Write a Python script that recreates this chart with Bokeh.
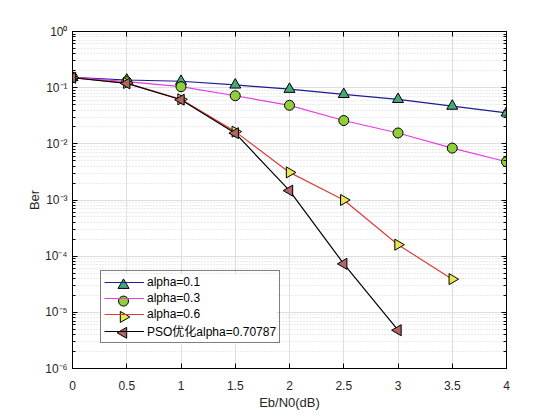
import math
from bokeh.plotting import figure
from bokeh.models import (FixedTicker, LinearAxis, LogAxis, Legend, Range1d)
from bokeh.embed import file_html
from bokeh.resources import INLINE

# ---- data ----
ebn0_full = [0, 0.5, 1, 1.5, 2, 2.5, 3, 3.5, 4]
ber_a01 = [0.152, 0.137, 0.130, 0.112, 0.094, 0.076, 0.062, 0.047, 0.0355]
ber_a03 = [0.152, 0.128, 0.104, 0.0718, 0.0485, 0.026, 0.0156, 0.0084, 0.0048]
ebn0_a06 = [0, 0.5, 1, 1.5, 2, 2.5, 3, 3.5]
ber_a06 = [0.150, 0.121, 0.062, 0.0165, 0.0031, 0.001, 1.6e-4, 3.9e-5]
ebn0_pso = [0, 0.5, 1, 1.5, 2, 2.5, 3]
ber_pso = [0.150, 0.119, 0.061, 0.0155, 0.00147, 7.3e-5, 4.8e-6]

x_ticks = [0, 0.5, 1, 1.5, 2, 2.5, 3, 3.5, 4]
x_tick_labels = ["0", "0.5", "1", "1.5", "2", "2.5", "3", "3.5", "4"]
y_exponents = [-6, -5, -4, -3, -2, -1, 0]
y_tick_labels = ["10\u207b\u2076", "10\u207b\u2075", "10\u207b\u2074", "10\u207b\u00b3",
                 "10\u207b\u00b2", "10\u207b\u00b9", "10\u2070"]

series_labels = ["alpha=0.1", "alpha=0.3", "alpha=0.6", "PSO优化alpha=0.70787"]

FONT = "Liberation Sans, 'Noto Sans CJK SC'"
TXT = "#262626"

X0, X1, YLOG0, YLOG1 = 0.0, 4.0, -6, 0
W, H, BL, BR, BT, BB = 552, 412, 72, 46, 31, 41
FW, FH = W - BL - BR, H - BT - BB

p = figure(width=W, height=H, output_backend="svg", toolbar_location=None,
           y_axis_type="log", x_range=Range1d(X0, X1),
           y_range=Range1d(10.0 ** YLOG0, 10.0 ** YLOG1),
           min_border_left=BL, min_border_right=BR, min_border_top=BT,
           min_border_bottom=BB)
p.outline_line_color = "black"
p.outline_line_width = 1

y_major = [10.0 ** e for e in y_exponents]
y_minor = [k * 10.0 ** e for e in y_exponents[:-1] for k in range(2, 10)]

# grids
p.xgrid.ticker = FixedTicker(ticks=x_ticks)
p.ygrid.ticker = FixedTicker(ticks=y_major, minor_ticks=y_minor)
p.xgrid.grid_line_color = "#dedede"
p.ygrid.grid_line_color = "#dedede"
p.ygrid.minor_grid_line_color = "#d8d8d8"
p.ygrid.minor_grid_line_dash = "1 2"

def style_axis(ax):
    ax.axis_line_color = "black"
    ax.major_tick_in = 5
    ax.major_tick_out = 0
    ax.minor_tick_in = 3
    ax.minor_tick_out = 0
    ax.major_tick_line_color = "black"
    ax.minor_tick_line_color = "black"
    ax.major_label_text_font = FONT
    ax.major_label_text_font_size = "12px"
    ax.major_label_text_color = TXT
    ax.axis_label_text_font = FONT
    ax.axis_label_text_font_size = "13px"
    ax.axis_label_text_font_style = "normal"
    ax.axis_label_text_color = TXT

xa = p.xaxis[0]
xa.ticker = FixedTicker(ticks=x_ticks)
xa.major_label_overrides = {t: l for t, l in zip(x_ticks, x_tick_labels)}
xa.axis_label = "Eb/N0(dB)"
style_axis(xa)
xa.major_label_standoff = 12
xa.axis_label_standoff = 2

ya = p.yaxis[0]
ya.ticker = FixedTicker(ticks=y_major, minor_ticks=y_minor)
ya.major_label_overrides = {t: l for t, l in zip(y_major, y_tick_labels)}
ya.axis_label = "Ber"
style_axis(ya)
ya.major_label_standoff = 5
ya.axis_label_standoff = 0

top = LinearAxis(ticker=FixedTicker(ticks=x_ticks))
style_axis(top)
top.major_label_text_color = None
top.major_label_standoff = 0
p.add_layout(top, "above")
right = LogAxis(ticker=FixedTicker(ticks=y_major, minor_ticks=y_minor))
style_axis(right)
right.major_label_text_color = None
right.major_label_standoff = 0
p.add_layout(right, "right")

# legend geometry (frame pixels from bottom-left)
LEG_X, LEG_Y, PAD, ROW, GW, LEG_W = 28, 25, 3, 16, 40, 176
box_h = 2 * PAD + len(series_labels) * ROW

def px_to_x(px):
    return X0 + (X1 - X0) * px / FW

def px_to_y(py):
    return 10.0 ** (YLOG0 + (YLOG1 - YLOG0) * py / FH)

# white legend background drawn first (glyph level, above the grid)
p.quad(left=[px_to_x(LEG_X)], right=[px_to_x(LEG_X + LEG_W)],
       bottom=[px_to_y(LEG_Y)], top=[px_to_y(LEG_Y + box_h)],
       fill_color="white", line_color=None)

# series
specs = [
    (ebn0_full, ber_a01, "#1c1c96", "#46a878", "triangle", 0.0, 11),
    (ebn0_full, ber_a03, "#e63ce6", "#8fd03a", "circle", 0.0, 10),
    (ebn0_a06, ber_a06, "#dc3c3c", "#e8e84c", "triangle", -math.pi / 2, 11),
    (ebn0_pso, ber_pso, "#000000", "#b06464", "triangle", math.pi / 2, 11),
]
items = []
for (xs, ys, lc, fc, mk, ang, sz), lab in zip(specs, series_labels):
    r1 = p.line(xs, ys, line_color=lc, line_width=1.2)
    p.scatter(xs, ys, marker=mk, angle=ang, size=sz, fill_color=fc,
              line_color="black", line_width=1)
    items.append((lab, [r1]))

# legend markers at the legend rows
cx_px = LEG_X + PAD + GW / 2.0
for i, (xs, ys, lc, fc, mk, ang, sz) in enumerate(specs):
    cy_px = LEG_Y + box_h - PAD - ROW * (i + 0.5)
    p.scatter([px_to_x(cx_px)], [px_to_y(cy_px)], marker=mk, angle=ang, size=sz,
              fill_color=fc, line_color="black", line_width=1)

legend = Legend(items=items, location=(LEG_X, LEG_Y))
legend.label_text_font = FONT
legend.label_text_font_size = "12px"
legend.label_text_color = "black"
legend.glyph_width = GW
legend.glyph_height = ROW
legend.label_height = ROW
legend.spacing = 0
legend.padding = PAD
legend.margin = 0
legend.label_standoff = 3
legend.border_line_color = "black"
legend.border_line_width = 1
legend.background_fill_alpha = 0
p.add_layout(legend, "center")

open("out.html", "w").write(file_html(p, INLINE))
